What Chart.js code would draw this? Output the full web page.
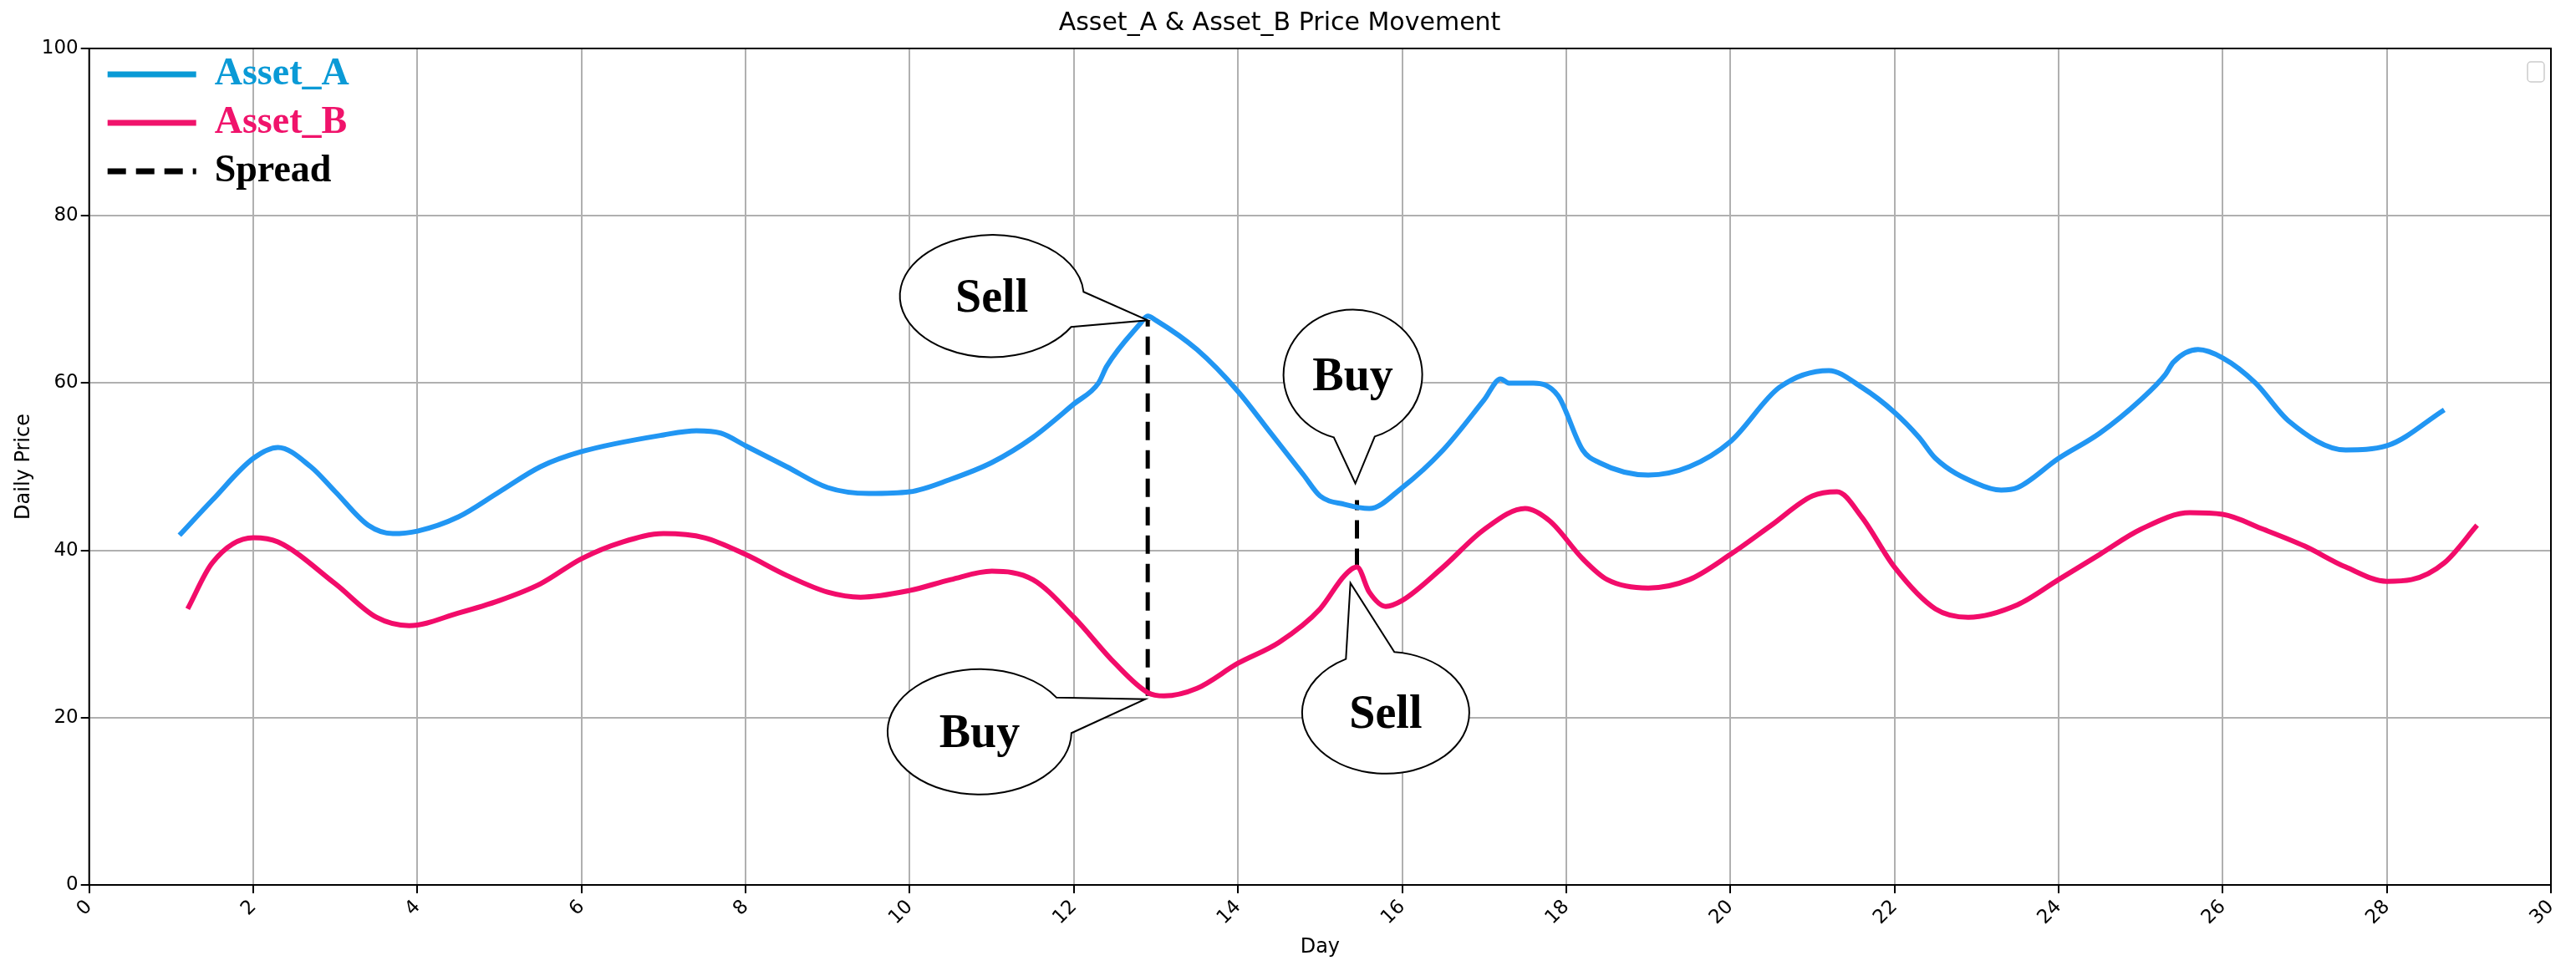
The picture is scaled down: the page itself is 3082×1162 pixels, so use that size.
<!DOCTYPE html>
<html>
<head>
<meta charset="utf-8">
<script src="https://cdn.jsdelivr.net/npm/chart.js@4"></script>
<style>
html, body { margin: 0; padding: 0; background: #fff; }
#wrap { width: 3082px; height: 1162px; }
</style>
</head>
<body>
<div id="wrap"><canvas id="precioChart" width="3082" height="1162"></canvas></div>
<script>
// datos
var diasA = [1.1, 1.5, 2.0, 2.3, 2.7, 3.0, 3.4, 3.7, 4.0, 4.5, 5.0, 5.5, 6.0, 7.0, 7.4, 7.7, 8.0, 8.5, 9.0, 9.5, 10.0, 10.5, 11.0, 11.5, 12.0, 12.3, 12.4, 12.8, 12.9, 13.0, 13.5, 14.0, 14.4, 14.8, 15.0, 15.3, 15.6, 16.0, 16.5, 17.0, 17.2, 17.3, 17.6, 17.9, 18.2, 18.4, 19.0, 19.5, 20.0, 20.6, 21.2, 21.6, 22.0, 22.3, 22.5, 23.0, 23.3, 23.5, 24.0, 24.5, 25.0, 25.3, 25.4, 25.7, 26.0, 26.4, 26.8, 27.5, 28.0, 28.7];
var preciosA = [41.8, 46, 51, 52.3, 50, 47, 43, 42, 42.3, 44, 47, 50, 51.8, 53.8, 54.3, 54, 52.5, 50, 47.5, 46.8, 47, 48.5, 50.5, 53.5, 57.5, 60, 62, 67, 68, 67.5, 64, 59, 54, 49, 46.5, 45.5, 45, 47.5, 52, 58, 60.5, 60, 60, 58.5, 52, 50.5, 49, 50, 53, 59.5, 61.5, 59.5, 56.5, 53.5, 51, 48, 47.2, 47.5, 51, 54, 58, 61, 62.5, 64, 63, 60, 55.5, 52, 52.5, 56.8];
var diasB = [1.2, 1.5, 2.0, 2.3, 3.0, 3.5, 3.9, 4.5, 5.0, 5.5, 6.0, 6.5, 7.0, 7.5, 8.0, 8.5, 9.0, 9.4, 10.0, 10.5, 11.0, 11.5, 12.0, 12.5, 12.9, 13.1, 13.5, 14.0, 14.5, 15.0, 15.3, 15.45, 15.6, 15.8, 16.0, 16.5, 17.0, 17.5, 17.8, 18.2, 18.5, 19.0, 19.5, 20.0, 20.5, 21.0, 21.3, 21.6, 22.0, 22.5, 22.9, 23.5, 24.0, 24.5, 25.0, 25.6, 26.0, 26.5, 27.0, 27.5, 28.0, 28.3, 28.7, 29.1];
var preciosB = [33, 38.5, 41.5, 41, 36, 32, 31, 32.5, 34, 36, 39, 41, 42, 41.5, 39.5, 37, 35, 34.4, 35.2, 36.5, 37.5, 36.5, 32, 26.5, 23, 22.6, 23.5, 26.5, 29, 33, 37, 38, 35, 33.3, 34, 38, 42.5, 45, 43.5, 39, 36.5, 35.5, 36.5, 39.5, 43, 46.5, 47, 44, 38, 33, 32, 33.5, 36.5, 39.5, 42.5, 44.5, 44.3, 42.5, 40.5, 38, 36.3, 36.5, 38.5, 43];
var spread1 = [[12.9, 22.6], [12.9, 67.5]];
var spread2 = [[15.45, 38], [15.45, 46]];
var ticksX = [0, 2, 4, 6, 8, 10, 12, 14, 16, 18, 20, 22, 24, 26, 28, 30];
var ticksY = [0, 20, 40, 60, 80, 100];
// globos: texto, centro (dia, precio), punta (dia, precio)
var globos = [
    { texto: 'Sell', cx: 11.0, cy: 70.4, rx: 110, ry: 73, px: 12.9, py: 67.5 },
    { texto: 'Buy', cx: 15.4, cy: 61, rx: 83, ry: 78, px: 15.43, py: 48 },
    { texto: 'Buy', cx: 10.85, cy: 18.3, rx: 110, ry: 75, px: 12.87, py: 22.2 },
    { texto: 'Sell', cx: 15.8, cy: 20.6, rx: 100, ry: 73, px: 15.37, py: 36.1 }
];

function puntos(xs, ys) {
    return xs.map((x, i) => ({ x: x, y: ys[i] }));
}

var pluginGlobos = {
    id: 'globos',
    afterDatasetsDraw: function (chart) {
        var ctx = chart.ctx, sx = chart.scales.x, sy = chart.scales.y;
        ctx.save();
        globos.forEach(function (g) {
            var cx = sx.getPixelForValue(g.cx), cy = sy.getPixelForValue(g.cy);
            var tx = sx.getPixelForValue(g.px), ty = sy.getPixelForValue(g.py);
            var a = Math.atan2((ty - cy) / g.ry, (tx - cx) / g.rx);
            var d = 0.3;
            ctx.beginPath();
            ctx.ellipse(cx, cy, g.rx, g.ry, 0, a + d, a - d + Math.PI * 2);
            ctx.lineTo(tx, ty);
            ctx.closePath();
            ctx.fillStyle = '#fff';
            ctx.fill();
            ctx.lineWidth = 2;
            ctx.strokeStyle = '#000';
            ctx.stroke();
            ctx.fillStyle = '#000';
            ctx.font = 'bold 56px "Liberation Serif"';
            ctx.textAlign = 'center';
            ctx.textBaseline = 'middle';
            ctx.fillText(g.texto, cx, cy + 4);
        });
        ctx.restore();
    },
    afterDraw: function (chart) {
        var ctx = chart.ctx, area = chart.chartArea;
        ctx.save();
        // leyenda
        var items = [
            { t: 'Asset_A', c: '#0a9ad6', tc: '#0a9ad6', dash: [] },
            { t: 'Asset_B', c: '#f0136b', tc: '#f0136b', dash: [] },
            { t: 'Spread', c: '#000', tc: '#000', dash: [22, 12] }
        ];
        items.forEach(function (it, i) {
            var y = area.top + 31 + i * 58;
            ctx.beginPath();
            ctx.setLineDash(it.dash);
            ctx.lineWidth = 7;
            ctx.strokeStyle = it.c;
            ctx.moveTo(area.left + 22, y);
            ctx.lineTo(area.left + 128, y);
            ctx.stroke();
            ctx.setLineDash([]);
            ctx.fillStyle = it.tc;
            ctx.font = 'bold 46px "Liberation Serif"';
            ctx.textBaseline = 'middle';
            ctx.fillText(it.t, area.left + 150, y);
        });
        // caja vacia de leyenda
        ctx.beginPath();
        ctx.lineWidth = 1.5;
        ctx.strokeStyle = '#ccc';
        ctx.roundRect(area.right - 28, area.top + 16, 20, 24, 4);
        ctx.stroke();
        // borde
        ctx.strokeStyle = '#000';
        ctx.lineWidth = 2;
        ctx.strokeRect(area.left, area.top, area.right - area.left, area.bottom - area.top);
        ctx.restore();
    }
};

var ctxPrecio = document.getElementById('precioChart').getContext('2d');
var chartPrecio = new Chart(ctxPrecio, {
    type: 'line',
    data: {
        datasets: [{
            label: 'Asset_A',
            data: puntos(diasA, preciosA),
            borderColor: '#2196f3',
            borderWidth: 6,
            pointRadius: 0,
            cubicInterpolationMode: 'monotone'
        }, {
            label: 'Asset_B',
            data: puntos(diasB, preciosB),
            borderColor: '#f20c6a',
            borderWidth: 6,
            pointRadius: 0,
            cubicInterpolationMode: 'monotone'
        }, {
            label: 'Spread',
            data: spread1.map(p => ({ x: p[0], y: p[1] })),
            borderColor: '#000',
            borderWidth: 5,
            borderDash: [22, 12],
            pointRadius: 0
        }, {
            label: 'Spread2',
            data: spread2.map(p => ({ x: p[0], y: p[1] })),
            borderColor: '#000',
            borderWidth: 5,
            borderDash: [22, 12],
            pointRadius: 0
        }]
    },
    options: {
        responsive: false,
        animation: false,
        layout: { padding: { left: 10, right: 30, top: 0, bottom: 10 } },
        plugins: {
            legend: { display: false },
            tooltip: { enabled: false },
            title: {
                display: true,
                text: 'Asset_A & Asset_B Price Movement',
                color: '#000',
                font: { family: 'DejaVu Sans', size: 30, weight: 'normal' },
                padding: { top: 10, bottom: 12 }
            }
        },
        scales: {
            x: {
                type: 'linear',
                min: 0,
                max: 30,
                afterBuildTicks: function (axis) { axis.ticks = ticksX.map(v => ({ value: v })); },
                ticks: { color: '#000', font: { family: 'DejaVu Sans', size: 23 }, minRotation: 45, maxRotation: 45 },
                grid: { color: '#b0b0b0', lineWidth: 2, tickLength: 10, tickColor: '#000' },
                title: { display: true, text: 'Day', color: '#000', font: { family: 'DejaVu Sans', size: 24 } }
            },
            y: {
                min: 0,
                max: 100,
                afterBuildTicks: function (axis) { axis.ticks = ticksY.map(v => ({ value: v })); },
                ticks: { color: '#000', font: { family: 'DejaVu Sans', size: 23 } },
                grid: { color: '#b0b0b0', lineWidth: 2, tickLength: 10, tickColor: '#000' },
                title: { display: true, text: 'Daily Price', color: '#000', font: { family: 'DejaVu Sans', size: 24 } }
            }
        }
    },
    plugins: [pluginGlobos]
});
</script>
</body>
</html>
